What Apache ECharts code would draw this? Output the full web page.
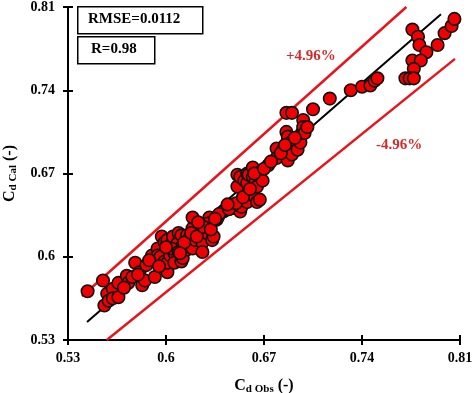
<!DOCTYPE html>
<html><head><meta charset="utf-8">
<script src="https://cdn.jsdelivr.net/npm/echarts@6/dist/echarts.min.js"></script>
<style>html,body{margin:0;padding:0;background:#fff}#c{width:474px;height:393px}</style>
</head><body><div id="c"></div>
<script>
// Observed vs calculated Cd
const cdObs = [0.544,0.555,0.556,0.558,0.559,0.562,0.562,0.566,0.566,0.572,0.573,0.576,0.578,0.581,0.583,0.585,0.586,0.590,0.592,0.594,0.594,0.596,0.597,0.599,0.599,0.601,0.601,0.601,0.601,0.603,0.604,0.605,0.606,0.606,0.608,0.609,0.611,0.611,0.611,0.612,0.615,0.615,0.617,0.619,0.619,0.619,0.621,0.624,0.626,0.626,0.626,0.629,0.629,0.631,0.630,0.633,0.634,0.636,0.637,0.641,0.642,0.648,0.653,0.653,0.654,0.651,0.651,0.653,0.656,0.658,0.658,0.658,0.659,0.659,0.662,0.662,0.662,0.664,0.665,0.665,0.667,0.667,0.669,0.673,0.679,0.679,0.684,0.686,0.690,0.686,0.687,0.687,0.689,0.690,0.694,0.696,0.697,0.698,0.698,0.699,0.701,0.705,0.717,0.732,0.740,0.746,0.749,0.751,0.776,0.780,0.781,0.786,0.794,0.776,0.782,0.777,0.771,0.774,0.777,0.799,0.804,0.806,
  0.588,0.595,0.604,0.609,0.613,0.618,0.622,0.627,0.632,0.638,0.645,0.650,0.655,0.660,0.663,0.670,0.675,0.682,0.685,0.692,0.570,0.580,0.600,0.610,0.623,0.635,0.644];
const cdCal = [0.571,0.580,0.559,0.569,0.563,0.573,0.565,0.578,0.566,0.584,0.578,0.583,0.595,0.587,0.576,0.580,0.593,0.601,0.583,0.607,0.601,0.600,0.617,0.596,0.612,0.587,0.611,0.614,0.595,0.601,0.611,0.617,0.603,0.595,0.611,0.620,0.608,0.618,0.596,0.599,0.618,0.606,0.616,0.624,0.607,0.633,0.614,0.621,0.624,0.612,0.604,0.627,0.620,0.633,0.628,0.614,0.617,0.631,0.633,0.638,0.639,0.641,0.638,0.643,0.642,0.659,0.669,0.667,0.664,0.670,0.662,0.646,0.654,0.669,0.675,0.667,0.652,0.664,0.659,0.646,0.671,0.648,0.664,0.677,0.691,0.683,0.691,0.721,0.721,0.705,0.701,0.681,0.696,0.686,0.690,0.696,0.704,0.715,0.709,0.704,0.709,0.724,0.733,0.740,0.743,0.744,0.748,0.750,0.791,0.785,0.778,0.772,0.778,0.765,0.765,0.758,0.750,0.750,0.750,0.788,0.794,0.800,
  0.597,0.592,0.607,0.604,0.612,0.620,0.617,0.625,0.623,0.636,0.640,0.645,0.650,0.657,0.670,0.674,0.680,0.687,0.694,0.700,0.574,0.585,0.608,0.603,0.629,0.632,0.644];
const fitX = [0.5436, 0.7964];
const fitY = [0.5451, 0.8040];
const upperX = [0.540, 0.7717];
const upperY = [0.5668, 0.810];
const lowerX = [0.5577, 0.8064];
const lowerY = [0.530, 0.7664];
const ticks = [0.53, 0.6, 0.67, 0.74, 0.81];
const rmseText = 'RMSE=0.0112';
const rText = 'R=0.98';
const plusText = '+4.96%';
const minusText = '-4.96%';

const font = 'Liberation Serif';
const pts = cdObs.map((x, i) => [x, cdCal[i]]);
const pair = (xs, ys) => xs.map((x, i) => [x, ys[i]]);

const chart = echarts.init(document.getElementById('c'), null, {renderer: 'canvas'});
const axisCommon = {
  type: 'value', min: 0.53, max: 0.81, interval: 0.07,
  splitLine: {show: false},
  axisLine: {show: true, onZero: false, lineStyle: {color: '#000', width: 2}},
  axisTick: {show: true, length: 5, lineStyle: {color: '#000', width: 2}},
  axisLabel: {color: '#000', fontFamily: font, fontWeight: 'bold', fontSize: 14,
    formatter: v => { const t = ticks.find(k => Math.abs(k - v) < 1e-6); return t === undefined ? '' : String(t); }}
};
const inTicks = {
  type: 'value', min: 0.53, max: 0.81, interval: 0.07,
  splitLine: {show: false}, axisLabel: {show: false},
  axisLine: {show: false, onZero: false},
  axisTick: {show: true, inside: true, length: 5, lineStyle: {color: '#000', width: 2}}
};
chart.setOption({
  animation: false,
  backgroundColor: '#fff',
  grid: {left: 68, right: 14, top: 7, bottom: 53, containLabel: false, outerBoundsMode: 'none'},
  xAxis: [
    Object.assign({}, axisCommon, {
      name: '{c|C}{s|d Obs}{c| (-)}', nameLocation: 'middle', nameGap: 36,
      nameTextStyle: {rich: {
        c: {fontFamily: font, fontWeight: 'bold', fontSize: 16, color: '#000'},
        s: {fontFamily: font, fontWeight: 'bold', fontSize: 11, color: '#000', padding: [8, 0, 0, 0]}
      }},
      axisLabel: Object.assign({}, axisCommon.axisLabel, {margin: 11})
    }),
    Object.assign({}, inTicks, {position: 'bottom'})
  ],
  yAxis: [
    Object.assign({}, axisCommon, {
      name: '{c|C}{s|d Cal}{c| (-)}', nameLocation: 'middle', nameGap: 49, nameRotate: 90,
      nameTextStyle: {rich: {
        c: {fontFamily: font, fontWeight: 'bold', fontSize: 16, color: '#000'},
        s: {fontFamily: font, fontWeight: 'bold', fontSize: 11, color: '#000', padding: [8, 0, 0, 0]}
      }},
      axisLabel: Object.assign({}, axisCommon.axisLabel, {margin: 13})
    }),
    Object.assign({}, inTicks, {position: 'left'})
  ],
  series: [
    {type: 'line', data: pair(upperX, upperY), symbol: 'none', lineStyle: {color: '#e8141b', width: 2.5}, z: 2, silent: true},
    {type: 'line', data: pair(lowerX, lowerY), symbol: 'none', lineStyle: {color: '#e8141b', width: 2.5}, z: 2, silent: true},
    {type: 'line', data: pair(fitX, fitY), symbol: 'none', lineStyle: {color: '#000', width: 2}, z: 2, silent: true},
    {type: 'scatter', data: pts, symbol: 'circle', symbolSize: 12.5,
      itemStyle: {color: '#f00000', borderColor: '#111', borderWidth: 1.6, opacity: 1}, z: 3}
  ],
  graphic: [
    {type: 'rect', left: 77, top: 6, shape: {width: 125, height: 27}, style: {fill: '#fff', stroke: '#000', lineWidth: 1.5}, z: 10},
    {type: 'text', left: 88, top: 12, style: {text: rmseText, font: 'bold 15px "Liberation Serif"', fill: '#000'}, z: 11},
    {type: 'rect', left: 77, top: 36, shape: {width: 77, height: 27}, style: {fill: '#fff', stroke: '#000', lineWidth: 1.5}, z: 10},
    {type: 'text', left: 91, top: 42, style: {text: rText, font: 'bold 15px "Liberation Serif"', fill: '#000'}, z: 11},
    {type: 'text', left: 286, top: 49, style: {text: plusText, font: 'bold 15px "Liberation Serif"', fill: '#d42a2a'}, z: 11},
    {type: 'text', left: 376, top: 138, style: {text: minusText, font: 'bold 15px "Liberation Serif"', fill: '#d42a2a'}, z: 11}
  ]
});
</script></body></html>
